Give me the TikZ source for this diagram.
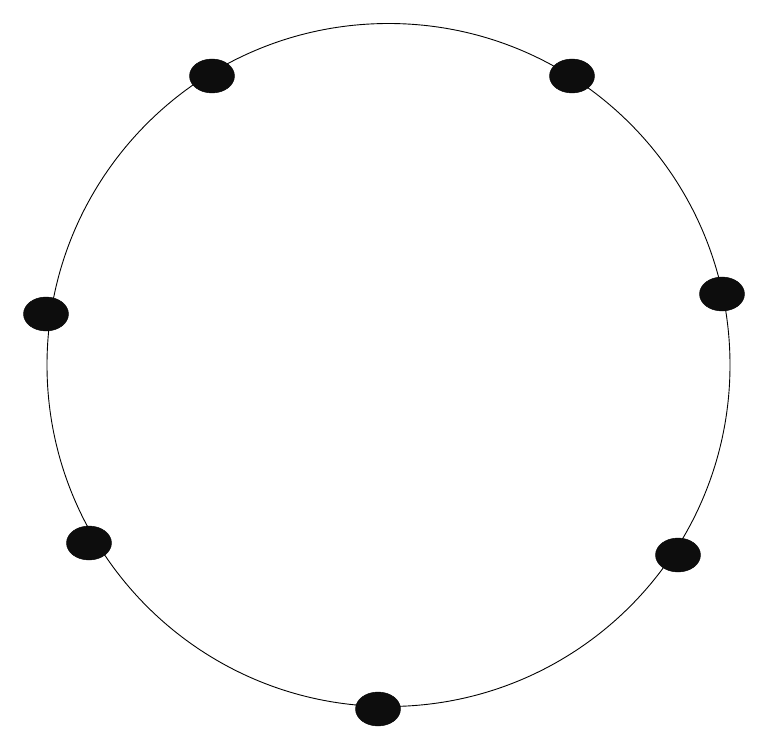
\documentclass[tikz,border=0pt]{standalone}
\usetikzlibrary{shapes.geometric}
\begin{document}
\begin{tikzpicture}[x=1pt,y=-1pt,
  dot/.style={ellipse,fill=black!95,draw=black,minimum width=45pt,minimum height=34pt,inner sep=0pt}]
\useasboundingbox (0,0) rectangle (768,751);
\fill[white] (0,0) rectangle (768,751);
\node[circle,draw=black,line width=0.9pt,minimum size=683pt,inner sep=0pt] (ring) at (388.5,365) {};
\node[dot] (d1) at (212,76) {};
\node[dot] (d2) at (572,76) {};
\node[dot] (d3) at (722,294) {};
\node[dot] (d4) at (678,555) {};
\node[dot] (d5) at (378,709) {};
\node[dot] (d6) at (89,543) {};
\node[dot] (d7) at (46,314) {};
\end{tikzpicture}
\end{document}
